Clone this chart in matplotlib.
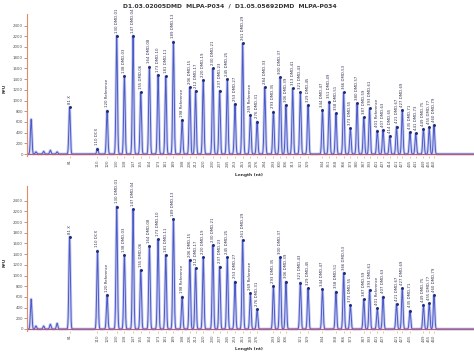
import numpy as np
import matplotlib
matplotlib.use("Agg")
from matplotlib import pyplot as plt

# Probe sizes (nt) shared by both samples
sizes = [81, 110, 120, 130, 138, 147, 155, 164, 173, 181, 189, 198, 206, 212, 220,
         230, 237, 245, 253, 261, 269, 276, 284, 293, 300, 306, 313, 321, 329, 344,
         351, 358, 366, 373, 380, 387, 393, 401, 407, 414, 421, 427, 435, 441, 449,
         455, 460]

probe_names = ["X", "DCX", "Reference", "DMD-01", "DMD-03", "DMD-04", "DMD-06", "DMD-08",
               "DMD-10", "DMD-11", "DMD-13", "Reference", "DMD-15", "DMD-17", "DMD-19",
               "DMD-21", "DMD-23", "DMD-25", "DMD-27", "DMD-29", "Reference", "DMD-31",
               "DMD-33", "DMD-35", "DMD-37", "DMD-39", "DMD-41", "DMD-43", "DMD-45",
               "DMD-47", "DMD-49", "DMD-51", "DMD-53", "DMD-55", "DMD-57", "DMD-59",
               "DMD-61", "Reference", "DMD-63", "DMD-65", "DMD-67", "DMD-69", "DMD-71",
               "DMD-73", "DMD-75", "DMD-77", "DMD-79"]

# Peak heights (RFU), 0 = no peak
heights_top = [873, 100, 810, 2211, 1458, 2211, 1153, 1632, 1480, 1450, 2100, 636, 1246,
               1180, 1383, 1600, 1183, 1400, 935, 2069, 729, 604, 1246, 791, 1433, 916,
               1227, 1150, 916, 822, 978, 760, 1150, 480, 947, 685, 853, 436, 449, 337,
               511, 822, 405, 386, 467, 498, 542]
heights_bottom = [1725, 1464, 636, 2287, 1383, 2237, 1103, 1551, 1677, 1383, 2056, 604,
                  1290, 1134, 1340, 1570, 1165, 1340, 885, 1664, 667, 368, 0, 804, 1340,
                  885, 0, 866, 760, 742, 0, 698, 1050, 449, 0, 555, 729, 386, 604, 0, 467,
                  760, 342, 0, 449, 480, 636]

# Unlabelled peaks at the start (primer + Q fragments)
small_sizes = [41, 46, 54, 61, 68]
small_top = [650, 40, 50, 70, 40]
small_bottom = [560, 56, 56, 88, 107]

title = "D1.03.02005DMD  MLPA-P034  /  D1.05.05692DMD  MLPA-P034"
yticks = list(range(0, 2401, 200))

BLUE = "#4a5ac8"
HALO = "#b4b8ea"
RED = "#b85a78"
GREY = "#555555"

fig = plt.figure(figsize=(4.74, 3.55), dpi=100)
W, H = 474.0, 355.0


def draw_panel(top_px, bottom_px, zero_px, heights, small):
    # axes box in pixel units -> figure fraction
    ax = fig.add_axes([27 / W, 1 - bottom_px / H, 1 - 27 / W, (bottom_px - top_px) / H])
    per_px = 200 / 10.7
    ax.set_ylim(-(bottom_px - zero_px) * per_px, (zero_px - top_px) * per_px)
    ax.set_xlim(36.7, 501.6)

    # electropherogram trace made of narrow peaks
    x = np.linspace(36.7, 501.6, 6000)
    y = np.zeros_like(x)
    for s, h in zip(sizes + small_sizes, heights + small):
        if h > 0:
            y += h * np.exp(-(x - s) ** 2 / (2 * 0.75 ** 2))
    ax.plot(x, y, color=HALO, lw=2.0, alpha=0.7)
    ax.plot(x, y, color=BLUE, lw=0.7)
    ax.plot([36.7, 501.6], [0, 0], color=RED, lw=0.9)

    # peak markers and probe labels
    tick_pos = []
    for s, h, name in zip(sizes, heights, probe_names):
        if h <= 0:
            continue
        tick_pos.append(s)
        ax.plot(s, h, "o", ms=1.1, color="#1f2a80")
        ax.text(s, h + 60, f"{s} {name}", rotation=90, ha="center", va="bottom",
                fontsize=2.8, color="#333355")

    ax.set_xticks(tick_pos)
    ax.set_xticklabels([str(t) for t in tick_pos], rotation=90, fontsize=2.8, color=GREY)
    ax.tick_params(axis="x", length=1.5, width=0.4, pad=1, color="#c9a060")
    ax.set_yticks(yticks)
    ax.set_yticklabels([str(t) for t in yticks], fontsize=2.8, color=GREY)
    ax.tick_params(axis="y", length=2, width=0.4, pad=1, color=GREY)

    for side in ["top", "right", "bottom"]:
        ax.spines[side].set_visible(False)
    ax.spines["left"].set_color("#e8896a")
    ax.spines["left"].set_linewidth(0.8)
    ax.patch.set_alpha(0)
    return ax


draw_panel(14, 156, 154, heights_top, small_top)
draw_panel(186, 331, 329, heights_bottom, small_bottom)

# texts
fig.text(230 / W, 1 - 6 / H, title, ha="center", va="center", fontsize=4.4,
         fontweight="bold", color="#333333")
fig.text(249 / W, 1 - 175 / H, "Length (nt)", ha="center", va="center", fontsize=3.2,
         fontweight="bold", color="#333333")
fig.text(249 / W, 1 - 349 / H, "Length (nt)", ha="center", va="center", fontsize=3.2,
         fontweight="bold", color="#333333")
fig.text(5 / W, 1 - 88 / H, "RFU", rotation=90, ha="center", va="center", fontsize=3,
         fontweight="bold", color="#333333")
fig.text(5 / W, 1 - 262 / H, "RFU", rotation=90, ha="center", va="center", fontsize=3,
         fontweight="bold", color="#333333")

fig.savefig("out.png", dpi=100)
